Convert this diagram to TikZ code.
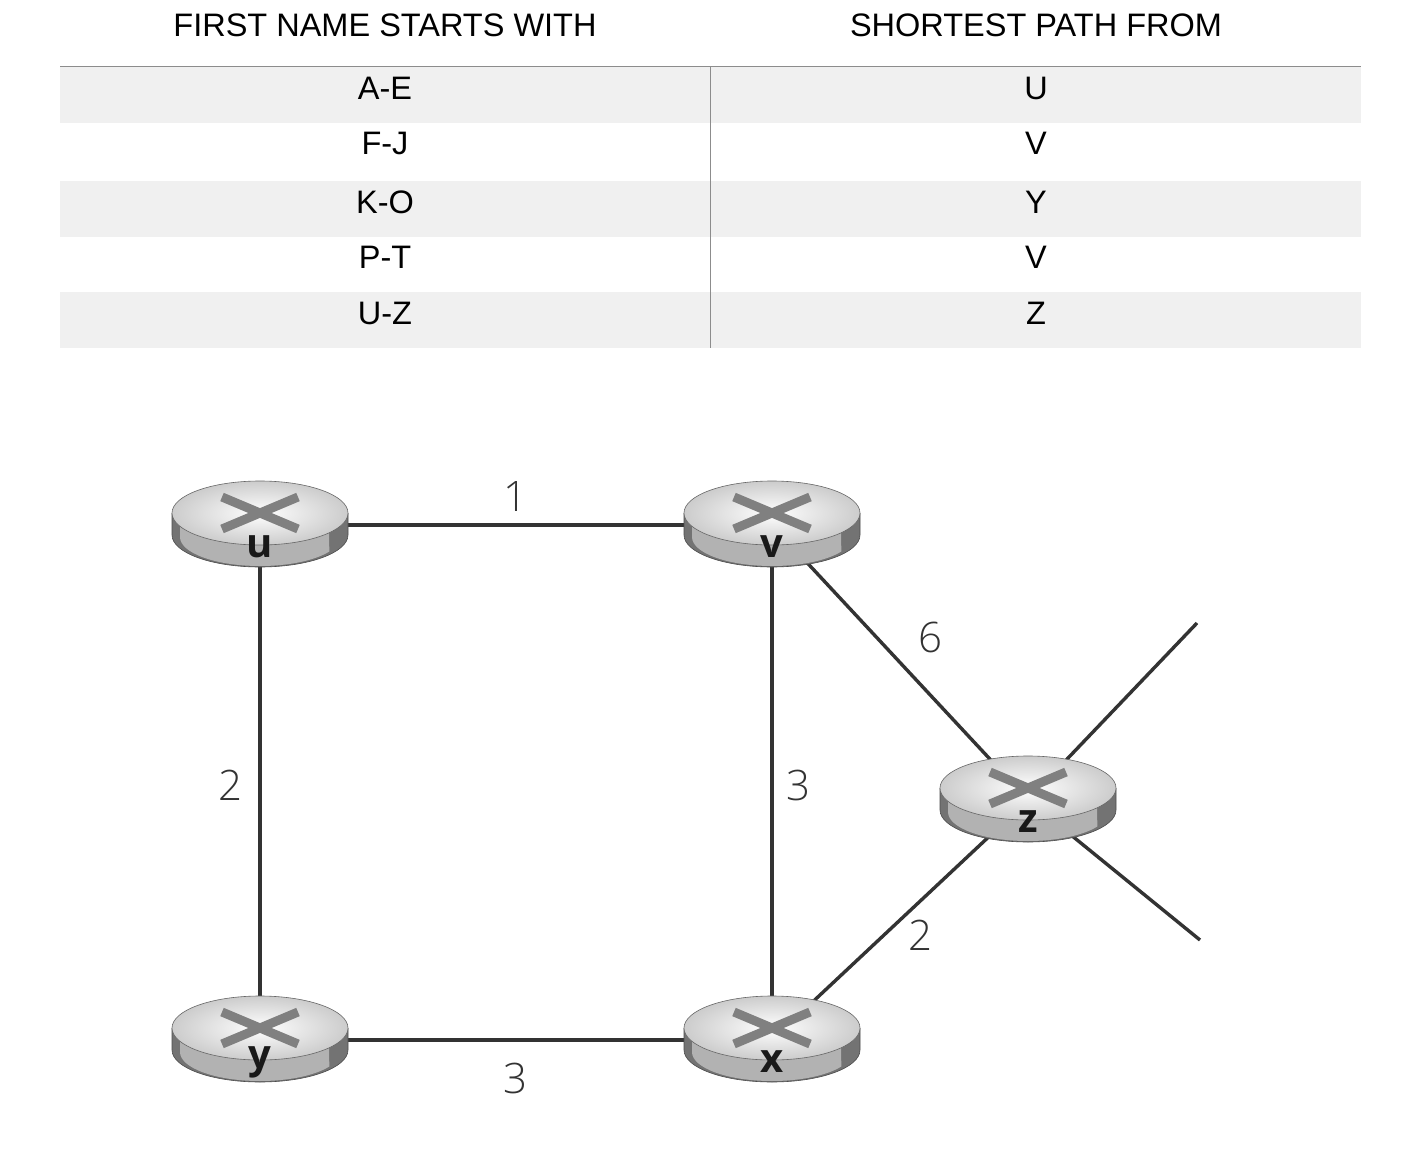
\documentclass[tikz,border=0pt]{standalone}
\usepackage{fontspec}
\setmainfont{Liberation Sans}
\newfontfamily\lbl{Open Sans Light}
\newfontfamily\rlbl{Open Sans}
\begin{document}
\begin{tikzpicture}[x=1pt,y=-1pt,
  cell/.style={font=\fontsize{32.5}{35}\selectfont,anchor=center},
  wt/.style={font=\lbl\fontsize{42}{46}\selectfont,text=black!80},
  link/.style={line width=3.4pt,black!80},
  rname/.style={font=\rlbl\bfseries\fontsize{40}{42}\selectfont,text=black!90}]
\useasboundingbox[fill=white] (0,0) rectangle (1406,1164);
% table
\foreach \y/\h in {67/56,181/56,292/56}{\fill[black!6] (60,\y) rectangle (1361,\y+\h);}
\draw[black!45,line width=1pt] (60,67) -- (1361,67);
\draw[black!45,line width=1pt] (710,67) -- (710,348);
\node[cell] (h1) at (385,25) {FIRST NAME STARTS WITH};
\node[cell] (h2) at (1036,25) {SHORTEST PATH FROM};
\foreach \a/\b/\y [count=\i] in {A-E/U/88,F-J/V/143,K-O/Y/202,P-T/V/257,U-Z/Z/313}{
  \node[cell] (l\i) at (385,\y) {\a};
  \node[cell] (r\i) at (1036,\y) {\b};}
% router coordinates
\coordinate (u) at (260,525);
\coordinate (v) at (772,525);
\coordinate (z) at (1028,800);
\coordinate (y) at (260,1040);
\coordinate (x) at (772,1040);
\coordinate (e1) at (1197,623);
\coordinate (e2) at (1200,940);
% links
\draw[link] (u) -- (v);
\draw[link] (u) -- (y);
\draw[link] (y) -- (x);
\draw[link] (v) -- (x);
\draw[link] (v) -- (z);
\draw[link] (z) -- (x);
\draw[link] (z) -- (e1);
\draw[link] (z) -- (e2);
% routers
\foreach \n/\t in {u/u,v/v,z/z,y/y,x/x}{
  \begin{scope}[shift={(\n)}]
    \fill[black!55] (-88,-12) -- (-88,10) arc[start angle=180,end angle=0,x radius=88,y radius=32] -- (88,-12) -- cycle;
    \fill[black!30] (-80,-12) -- (-80,12) arc[start angle=180,end angle=30,x radius=80,y radius=29] -- (69,-12) -- cycle;
    \draw[black!70,line width=0.6pt] (-88,-12) -- (-88,10) arc[start angle=180,end angle=0,x radius=88,y radius=32] -- (88,-12);
    \shade[inner color=white,outer color=black!20,draw=black!60,line width=0.6pt] (0,-12) ellipse[x radius=88,y radius=32];
    \draw[black!50,line width=9pt] (-38,-28) -- (38,4);
    \draw[black!50,line width=9pt] (-38,4) -- (38,-28);
  \end{scope}
  \node[rname,inner sep=0pt] (\n lbl) at ([yshift=-22]\n) {\t};
}
% weights
\node[wt] (w1) at (515,497) {1};
\node[wt] (w2) at (230,785) {2};
\node[wt] (w3) at (798,785) {3};
\node[wt] (w4) at (930,637) {6};
\node[wt] (w5) at (920,935) {2};
\node[wt] (w6) at (515,1078) {3};
\end{tikzpicture}
\end{document}
